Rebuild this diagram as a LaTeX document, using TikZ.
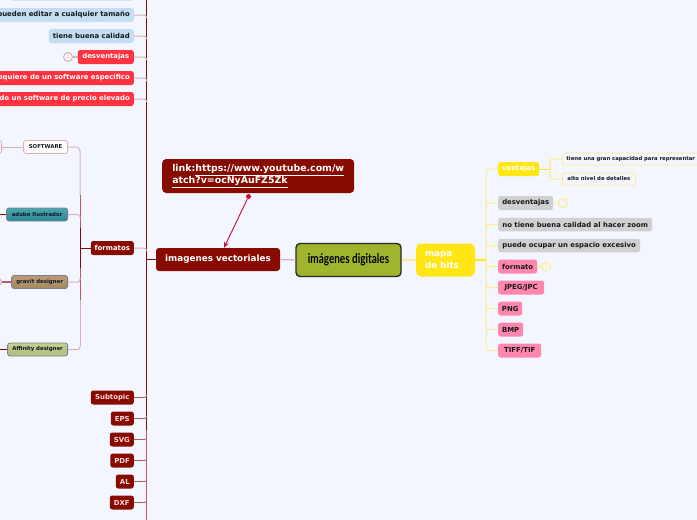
\documentclass[tikz,border=0pt]{standalone}
\usepackage{fontspec}
\setmainfont{DejaVu Sans}
\newfontfamily\titlefont[FakeStretch=0.74]{Lato}
\usetikzlibrary{arrows.meta}
\definecolor{bgc}{HTML}{F3F6FF}
\definecolor{dred}{HTML}{880B00}
\definecolor{pale}{HTML}{DDB0B6}
\definecolor{midred}{HTML}{BC5A60}
\definecolor{bluec}{HTML}{C4DDF1}
\definecolor{redc}{HTML}{FF333F}
\definecolor{yel}{HTML}{FFE614}
\definecolor{paley}{HTML}{FFEC8C}
\definecolor{pinkc}{HTML}{FF86AD}
\definecolor{grayc}{HTML}{D0D0D0}
\definecolor{ink}{HTML}{17171F}
\definecolor{olive}{HTML}{A0B42E}
\definecolor{crim}{HTML}{C8102E}
\definecolor{tealt}{HTML}{4BA6B1}
\definecolor{tealb}{HTML}{2A8894}
\definecolor{brownt}{HTML}{BA9B75}
\definecolor{brownb}{HTML}{A68860}
\definecolor{greent}{HTML}{C2CF92}
\definecolor{greenb}{HTML}{AEBF7E}
\definecolor{edge}{HTML}{77808C}
\tikzset{
  box/.style={rounded corners=2.5pt,inner sep=0pt,minimum height=14pt,font=\bfseries\fontsize{6.9}{8}\selectfont,text=ink,anchor=east},
  lbox/.style={box,anchor=west},
  darkbox/.style={box,fill=dred,text=white},
  softbox/.style={darkbox,text=white!85!red},
  bluebox/.style={box,fill=bluec},
  redbox/.style={box,fill=redc,text=white},
  graybox/.style={lbox,fill=grayc},
  pinkbox/.style={lbox,fill=pinkc},
  subbox/.style={box,minimum height=13pt,font=\bfseries\fontsize{5.4}{6}\selectfont,line width=.8pt},
  ysub/.style={lbox,minimum height=12pt,font=\bfseries\fontsize{5.3}{6}\selectfont,draw=paley,line width=.8pt,fill=bgc},
  flag/.style={circle,draw,line width=1pt,fill=bgc,minimum size=9pt,inner sep=0pt,font=\fontsize{5}{5}\selectfont},
  palelink/.style={draw=pale,line width=1pt,rounded corners=2.5pt},
  softlink/.style={draw=midred,line width=.8pt,rounded corners=2pt},
  darklink/.style={draw=dred,line width=1pt},
  ylink/.style={draw=paley,line width=1pt,rounded corners=3pt},
}
\begin{document}
\begin{tikzpicture}[x=1pt,y=-1pt]
\useasboundingbox (0,0) rectangle (697,520);
\fill[bgc] (0,0) rectangle (697,520);
\clip (0,0) rectangle (697,520);
% anchors on the trunks
\coordinate (T0) at (146.5,-2);
\coordinate (T1) at (146.5,430);
\coordinate (T2) at (146.5,522);
\coordinate (L0) at (80,147);
\coordinate (L1) at (80,195);
\coordinate (L2) at (80,228);
\coordinate (L3) at (80,268);
\coordinate (L4) at (80,300);
\coordinate (L5) at (80,349.5);
\coordinate (Y0) at (486,169);
\coordinate (YM) at (486,260);
\coordinate (YS0) at (550,159);
\coordinate (YS1) at (550,179);
\coordinate (lft0) at (-3,214.5);
\coordinate (lft1) at (-3,349.5);
% trunks
\draw[darklink,line width=1.3pt] (T0) -- (T1);
\draw[draw=midred,line width=1.1pt] (T1) -- (T2);
% left column, upper
\node[bluebox,minimum width=124,minimum height=12] (top) at (134,-5.5) {};
\node[bluebox] (edit) at (134,15) {\hspace*{4pt}pueden editar a cualquier tamaño\hspace*{4pt}};
\node[bluebox,minimum width=85] (cal) at (134,36) {tiene buena calidad};
\node[redbox,minimum width=56] (des) at (134,57) {desventajas};
\node[flag,draw=pale,text=pale] (desf) at (68,57) {2};
\node[redbox] (req) at (134,78) {\hspace*{4pt}requiere de un software especifico\hspace*{4pt}};
\node[redbox] (pre) at (134,99) {\hspace*{20pt}de un software de precio elevado\hspace*{4pt}};
% formatos branch
\node[subbox,fill=white,draw=pale,minimum width=44] (soft) at (68,147) {SOFTWARE};
\node[subbox,fill=bgc,draw=pale,minimum width=20] (softl) at (2,147) {};
\node[subbox,draw=edge,top color=tealt,bottom color=tealb,minimum width=61] (ado) at (68,214.5) {adobe Ilustrador};
\node[subbox,draw=edge,top color=brownt,bottom color=brownb,minimum width=56] (gra) at (68,282) {gravit designer};
\node[flag,draw=pale,minimum size=7pt] (graf) at (-2,282) {};
\node[subbox,draw=edge,top color=greent,bottom color=greenb,minimum width=60] (aff) at (68,349.5) {Affinity designer};
\node[darkbox,text=white,minimum width=43] (fmt) at (134,248) {formatos};
% central
\node[darkbox,anchor=center,minimum width=124,minimum height=23,rounded corners=3pt,text=white,font=\bfseries\fontsize{8.8}{10}\selectfont] (vec) at (218,259.5) {imagenes vectoriales};
\node[darkbox,anchor=west,minimum width=192,minimum height=34,rounded corners=4pt,text=white,font=\bfseries\fontsize{9.4}{11}\selectfont,align=left] (lnk) at (162,176) {link:\underline{https://www.youtube.com/w}\\\underline{atch?v=ocNyAuFZ5Zk}};
\node[circle,fill=crim,minimum size=5pt,inner sep=0pt] (dot) at (248.5,196.5) {};
\node[rounded corners=4pt,fill=olive,draw=black!85,line width=1.3pt,minimum width=105,minimum height=33,inner sep=0pt,text=black,font=\titlefont\bfseries\fontsize{13.5}{15}\selectfont] (root) at (348.5,260) {imágenes digitales};
\node[rounded corners=5pt,fill=yel,minimum width=59,minimum height=33,inner sep=0pt,text=white,font=\bfseries\fontsize{8.8}{12}\selectfont,align=left,text width=41pt] (map) at (445.5,260) {mapa\\de bits};
% lower left
\node[softbox,minimum width=43] (st) at (134,397.5) {Subtopic};
\node[softbox,minimum width=23] (eps) at (134,418.5) {EPS};
\node[softbox,minimum width=24] (svg) at (134,439.5) {SVG};
\node[softbox,minimum width=23.5] (pdf) at (134,460.5) {PDF};
\node[softbox,minimum width=18] (al) at (134,481.5) {AL};
\node[softbox,minimum width=24] (dxf) at (134,502.5) {DXF};
% right column
\node[lbox,fill=yel,text=white,minimum width=41] (ven) at (498,169) {ventajas};
\node[graybox,minimum width=55] (dv) at (498,203) {desventajas};
\node[flag,draw=paley,text=paley] (dvf) at (563,203) {2};
\node[graybox,minimum width=154,minimum height=13.5] (zoom) at (498,224.5) {no tiene buena calidad al hacer zoom};
\node[graybox,minimum width=142,minimum height=13.5] (esp) at (498,245.5) {puede ocupar un espacio excesivo};
\node[pinkbox,minimum width=39] (fo) at (498,266.5) {formato};
\node[flag,draw=paley,text=paley] (fof) at (546,266.5) {2};
\node[pinkbox,minimum width=46] (jp) at (498,287.5) {JPEG/JPC};
\node[pinkbox,minimum width=24] (png) at (498,308.5) {PNG};
\node[pinkbox,minimum width=25] (bmp) at (498,329.5) {BMP};
\node[pinkbox,minimum width=43] (tif) at (498,350.5) {TIFF/TIF};
\node[ysub] (rep) at (562,159) {\hspace*{4pt}tiene una gran capacidad para representar\hspace*{20pt}};
\node[ysub,minimum width=73] (alt) at (562,179) {alto nivel de detalles};
% connectors, left
\foreach \n in {edit,cal,des,req,pre,fmt}
  \draw[palelink] (\n.east) -| ([yshift=-3pt]T0 |- \n.east);
\foreach \n in {st,eps,svg,pdf,al,dxf}
  \draw[softlink] (\n.east) -| ([yshift=3pt]T0 |- \n.east);
\draw[draw=pale,line width=1.2pt] (desf) -- (des);
\draw[draw=pale,line width=1pt] (softl) -- (soft);
\draw[draw=pale,line width=1pt,rounded corners=4pt] (soft.east) -| (L1);
\draw[draw=midred,line width=1pt] (L1) -- (L2);
\draw[darklink] (L2) -- (L3);
\draw[draw=midred,line width=1pt] (L3) -- (L4);
\draw[draw=pale,line width=1pt] (L4) -- ([yshift=4pt]L5);
\draw[palelink] (ado.east) -| ([yshift=-4pt]L0 |- ado.east);
\draw[palelink] (gra.east) -| ([yshift=4pt]L0 |- gra.east);
\draw[palelink] (aff.east) -| ([yshift=4pt]L5);
\draw[darklink] (fmt.west) -- (L0 |- fmt.west);
\draw[darklink] (ado.west) -- (lft0);
\draw[darklink] (aff.west) -- (lft1);
\draw[draw=midred,line width=1.3pt] (gra.west) -- (graf);
\draw[darklink,line width=1.2pt] (vec.west) -- (T0 |- vec.west);
\draw[draw=pale,line width=1.3pt] (vec.east) -- (root.west);
\draw[draw=crim,line width=.9pt,-{Stealth[length=6pt,width=5pt]}] (dot) -- ([xshift=6pt]vec.north);
% connectors, right
\draw[draw=paley,line width=1.2pt] (root.east) -- (map.west);
\draw[draw=yel,line width=2pt] (map.east) -- (YM);
\draw[ylink] (ven.west) -| ([yshift=-5pt]Y0 |- dv.west) -- ([yshift=4pt]Y0 |- tif.west) |- (tif.west);
\foreach \n in {dv,zoom,esp}
  \draw[ylink] (\n.west) -| ([yshift=-3pt]Y0 |- \n.west);
\foreach \n in {fo,jp,png,bmp}
  \draw[ylink] (\n.west) -| ([yshift=3pt]Y0 |- \n.west);
\draw[draw=paley,line width=1pt] (dv) -- (dvf);
\draw[draw=paley,line width=1pt] (fo) -- (fof);
\draw[draw=yel,line width=1pt] (ven.east) -- (YS0 |- ven.east);
\draw[ylink] (rep.west) -| (YS1);
\draw[ylink] (alt.west) -| (YS0);
\end{tikzpicture}
\end{document}
